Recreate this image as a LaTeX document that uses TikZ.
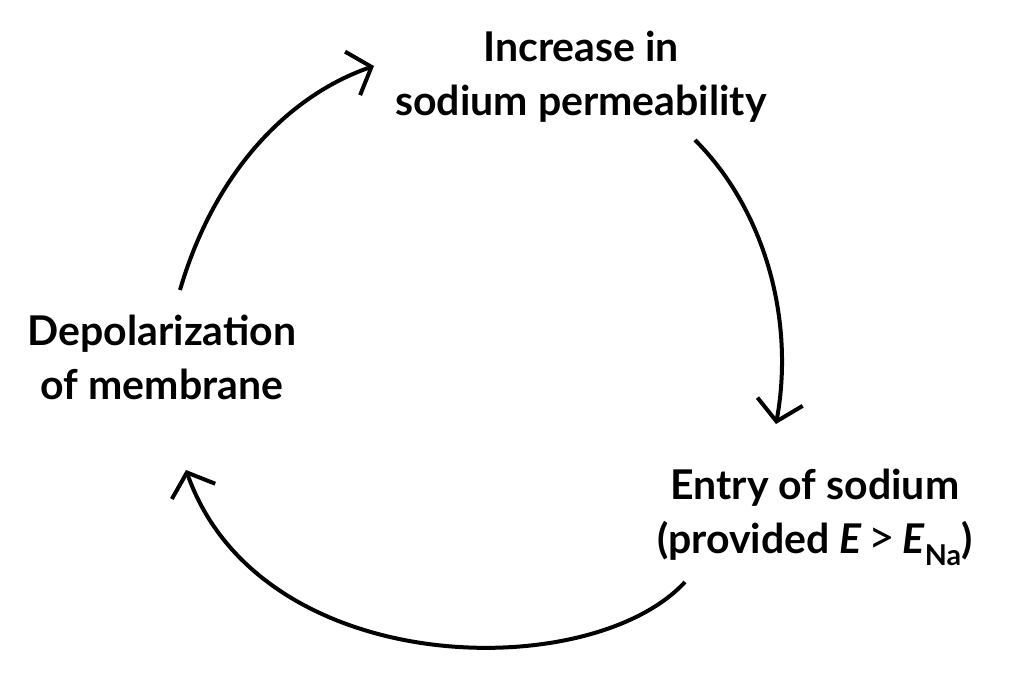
\documentclass[tikz,border=0pt]{standalone}
\usepackage{fontspec}
\setmainfont{Lato}
\usetikzlibrary{arrows.meta}
\begin{document}
\begin{tikzpicture}[x=1pt,y=-1pt,
  lbl/.style={font=\bfseries\fontsize{41}{54}\selectfont, align=center, inner sep=0pt},
  cyc/.style={line width=4pt, -{Straight Barb[length=20pt,width=46pt,line width=4pt]}}]
\useasboundingbox (0,0) rectangle (1013,680);
\node[lbl] (top) at (581,77) {Increase in\\sodium permeability};
\node[lbl] (left) at (162,357) {Depolarization\\of membrane};
\node[lbl] (right) at (815,517) {Entry of sodium\\(provided \textit{E}\,{\mdseries\fontsize{46}{46}\selectfont >}\,\textit{E}\textsubscript{Na})};
\coordinate (a1) at (180,290); \coordinate (a2) at (374,66);
\coordinate (b1) at (695,140); \coordinate (b2) at (776,424);
\coordinate (c1) at (685,582); \coordinate (c2) at (186,470);
\draw[cyc] (a1) .. controls (215,170) and (290,95) .. (a2);
\draw[cyc] (b1) .. controls (765,210) and (795,320) .. (b2);
\draw[cyc] (c1) .. controls (590,685) and (260,680) .. (c2);
\end{tikzpicture}
\end{document}
